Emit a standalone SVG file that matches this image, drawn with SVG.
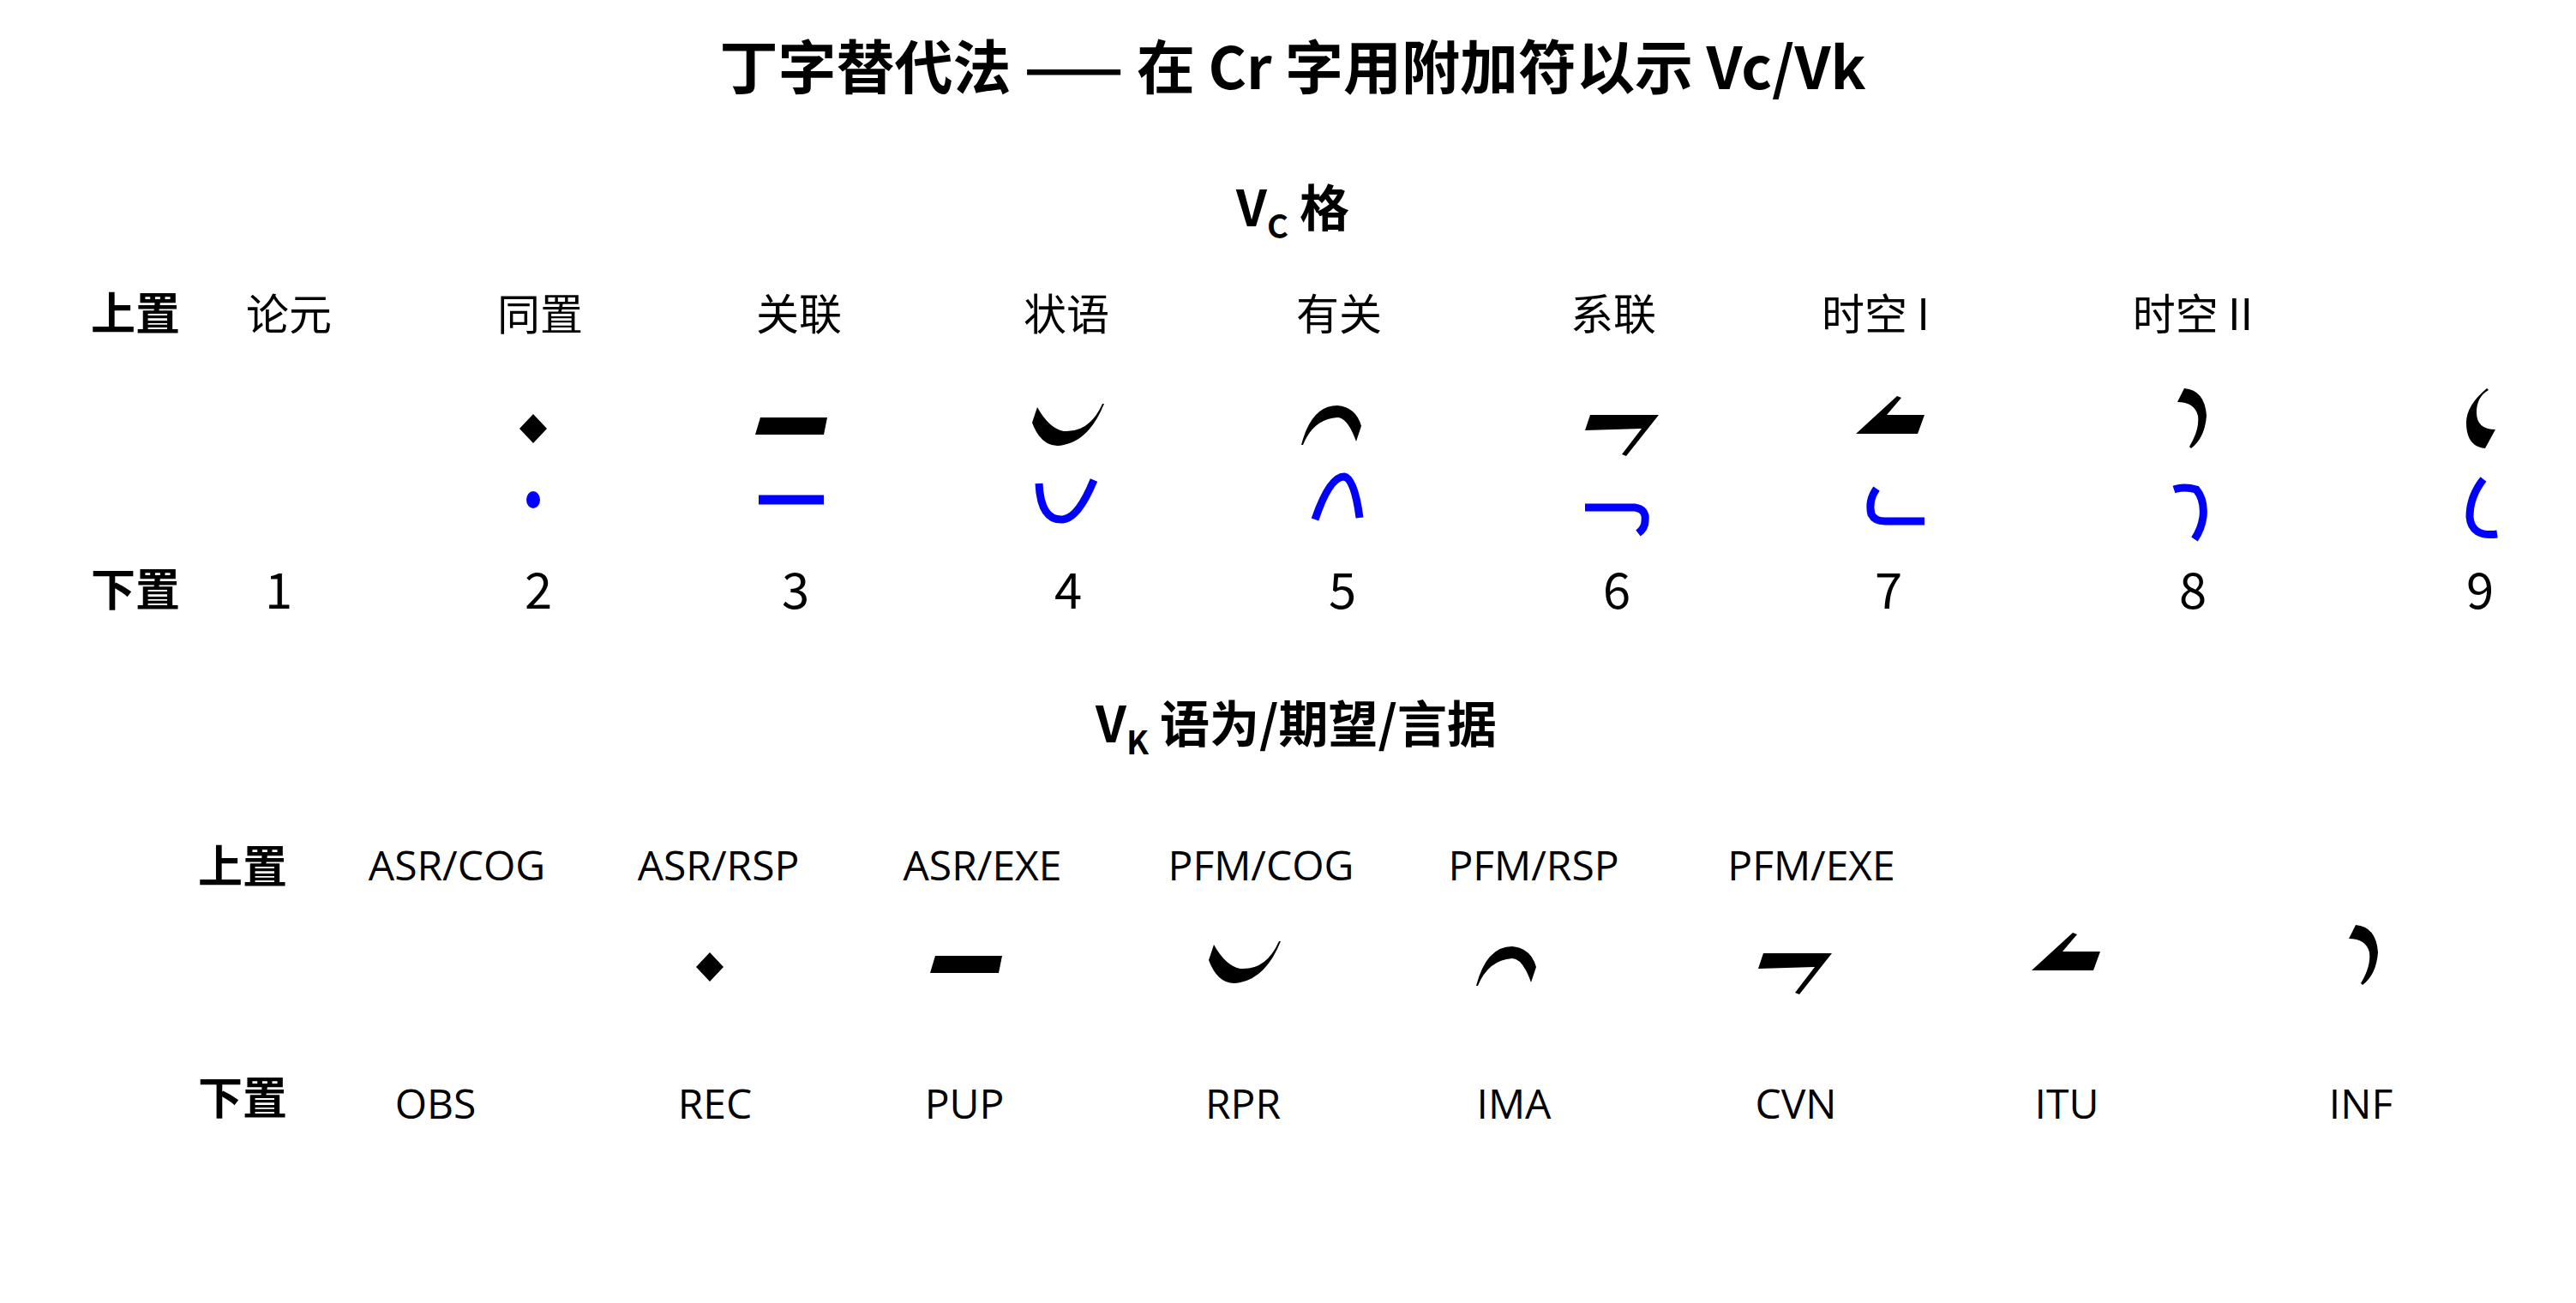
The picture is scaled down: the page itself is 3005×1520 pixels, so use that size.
<svg xmlns="http://www.w3.org/2000/svg" xmlns:xlink="http://www.w3.org/1999/xlink" width="3005" height="1520" viewBox="0 0 3005 1520">
<style>
text{font-family:"Noto Sans CJK SC","Noto Sans",sans-serif;fill:#000;text-anchor:middle}
.t{font-size:68px;font-weight:bold}
.h{font-size:58px;font-weight:bold}
.rl{font-size:52px;font-weight:bold}
.l{font-size:50px}
.n{font-size:58px}
.c{font-size:48px;font-family:"Open Sans","Noto Sans",sans-serif}
.b{fill:none;stroke:#0000ff;stroke-width:9}
</style>
<defs>
<path id="s2" d="M0,-17 L16,0 L0,17 L-16,0Z"/>
<path id="s3" d="M-36,-10 L42,-10 L38,10 L-42,10Z"/>
<path id="s4" d="M-36,-20 L-42,-2 Q-30,30 -5,24 Q25,18 42,-24 L40,-24 Q25,10 -5,8 Q-22,5 -36,-20Z"/>
<path id="s5" d="M-44,22 Q-32,-24 -2,-24 Q20,-22 26,0 L20,18 Q10,-10 -2,-10 Q-30,-8 -42,22Z"/>
<path id="s6" d="M-38,-18 L42,-18 L4,30 L-1,28 L22,-2 L-44,0Z"/>
<path id="s7" d="M10,-30 L15,-28 L-2,-8 L42,-8 L34,14 L-38,14Z"/>
<path id="s8" d="M-14,-18 L-6,-34 Q18,-32 20,-2 Q18,24 2,36 L0,34 Q12,14 10,-2 Q6,-18 -14,-18Z"/>
<path id="s9" d="M12,-34 Q-12,-14 -12,6 Q-12,34 10,36 L22,14 Q0,14 0,-6 Q0,-24 14,-32Z"/>
</defs>
<g id="title"><text class="t" x="1508" y="104">丁字替代法 —— 在 Cr 字用附加符以示 Vc/Vk</text></g>
<g id="vc">
<text class="h" x="1508" y="264">V<tspan font-size="38" dy="14">C</tspan><tspan dy="-14"> 格</tspan></text>
<text class="rl" x="158" y="385">上置</text>
<text class="rl" x="158" y="707">下置</text>
<g class="l">
<text class="l" x="337" y="385">论元</text><text class="l" x="630" y="385">同置</text><text class="l" x="932" y="385">关联</text><text class="l" x="1244" y="385">状语</text><text class="l" x="1562" y="385">有关</text><text class="l" x="1882" y="385">系联</text><text class="l" x="2188" y="385">时空 I</text><text class="l" x="2558" y="385">时空 II</text>
</g>
<use xlink:href="#s2" x="622" y="500"/><use xlink:href="#s3" x="923" y="497"/><use xlink:href="#s4" x="1246" y="495"/><use xlink:href="#s5" x="1562" y="497"/><use xlink:href="#s6" x="1893" y="502"/><use xlink:href="#s7" x="2203" y="492"/><use xlink:href="#s8" x="2554" y="487"/><use xlink:href="#s9" x="2889" y="487"/>
<ellipse cx="622" cy="583" rx="8" ry="10" fill="#0000ff"/>
<g class="b">
<path d="M885,583 L961,583" stroke-width="11"/>
<path transform="translate(1246,584)" d="M-34,-20 Q-32,24 -6,22 Q12,20 30,-24"/>
<path transform="translate(1566,582)" d="M-32,24 Q-15,-26 2,-26 Q14,-24 20,22"/>
<path transform="translate(1893,592)" d="M-44,0 L14,0 Q28,2 26,16 Q26,24 18,30"/>
<path transform="translate(2203,594)" d="M-14,-24 Q-24,-10 -20,6 Q-16,14 -4,14 L42,14"/>
<path transform="translate(2554,593)" d="M-18,-22 Q-6,-26 8,-22 Q18,-10 16,10 Q14,24 6,36"/>
<path transform="translate(2889,593)" d="M8,-34 Q-8,-14 -8,10 Q-6,34 24,30"/>
</g>
<text class="n" x="325" y="710">1</text><text class="n" x="628" y="710">2</text><text class="n" x="928" y="710">3</text><text class="n" x="1246" y="710">4</text><text class="n" x="1566" y="710">5</text><text class="n" x="1886" y="710">6</text><text class="n" x="2203" y="710">7</text><text class="n" x="2558" y="710">8</text><text class="n" x="2893" y="710">9</text>
</g>
<g id="vk">
<text class="h" x="1512" y="866">V<tspan font-size="38" dy="14">K</tspan><tspan dy="-14"> 语为/期望/言据</tspan></text>
<text class="rl" x="283" y="1030">上置</text>
<text class="rl" x="283" y="1300">下置</text>
<text class="c" x="533" y="1027">ASR/COG</text><text class="c" x="838" y="1027">ASR/RSP</text><text class="c" x="1146" y="1027">ASR/EXE</text><text class="c" x="1471" y="1027">PFM/COG</text><text class="c" x="1789" y="1027">PFM/RSP</text><text class="c" x="2113" y="1027">PFM/EXE</text>
<use xlink:href="#s2" x="828" y="1128"/><use xlink:href="#s3" x="1127" y="1125"/><use xlink:href="#s4" x="1452" y="1122"/><use xlink:href="#s5" x="1766" y="1128"/><use xlink:href="#s6" x="2095" y="1130"/><use xlink:href="#s7" x="2408" y="1118"/><use xlink:href="#s8" x="2754" y="1113"/>
<text class="c" x="508" y="1305">OBS</text><text class="c" x="834" y="1305">REC</text><text class="c" x="1125" y="1305">PUP</text><text class="c" x="1450" y="1305">RPR</text><text class="c" x="1766" y="1305">IMA</text><text class="c" x="2095" y="1305">CVN</text><text class="c" x="2411" y="1305">ITU</text><text class="c" x="2754" y="1305">INF</text>
</g>
</svg>
